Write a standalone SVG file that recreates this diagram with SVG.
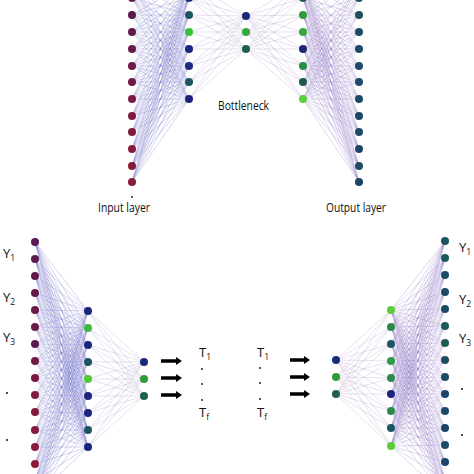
<svg xmlns="http://www.w3.org/2000/svg" width="474" height="474" viewBox="0 0 474 474">
<defs>
<style>
.e1{fill:none;stroke:#6a6ac4;stroke-width:0.5;stroke-opacity:0.55;stroke-linejoin:round}
.e2{fill:none;stroke:#b09cc8;stroke-width:0.5;stroke-opacity:0.6;stroke-linejoin:round}
.e3{fill:none;stroke:#8a72c2;stroke-width:0.5;stroke-opacity:0.55;stroke-linejoin:round}
.t{font-family:"Open Sans","Liberation Sans",sans-serif;fill:#111}
.dot{fill:#111}
circle{stroke:none}
</style>
<polygon id="arrL" points="0,-1.8 15,-1.8 15,-4 21,0 15,4 15,1.8 0,1.8" fill="#000"/>
<polygon id="arrR" points="0,-1.8 14,-1.8 14,-4 20,0 14,4 14,1.8 0,1.8" fill="#000"/>
</defs>
<rect width="474" height="474" fill="#fff"/>
<g id="connectors">
<path class="e1" d="M132 -18 189 -18 132 -2 189 -2 132 -18 189 15 132 -2 189 32 132 -18 189 49 132 -2 189 66 132 -18 189 82 132 -2 189 99 132 -18
M132 15 189 -18 132 32 189 -2 132 15 189 15 132 32 189 32 132 15 189 49 132 32 189 66 132 15 189 82 132 32 189 99 132 15
M132 49 189 -18 132 66 189 -2 132 49 189 15 132 66 189 32 132 49 189 49 132 66 189 66 132 49 189 82 132 66 189 99 132 49
M132 82 189 -18 132 99 189 -2 132 82 189 15 132 99 189 32 132 82 189 49 132 99 189 66 132 82 189 82 132 99 189 99 132 82
M132 116 189 -18 132 132 189 -2 132 116 189 15 132 132 189 32 132 116 189 49 132 132 189 66 132 116 189 82 132 132 189 99 132 116
M132 149 189 -18 132 166 189 -2 132 149 189 15 132 166 189 32 132 149 189 49 132 166 189 66 132 149 189 82 132 166 189 99 132 149
M189 -18 132 182 189 -2M189 15 132 182 189 32M189 49 132 182 189 66M189 82 132 182 189 99"/>
<path class="e2" d="M189 -18 246 16 189 -2 246 32 189 -18 246 49 189 -2
M189 15 246 16 189 32 246 32 189 15 246 49 189 32
M189 49 246 16 189 66 246 32 189 49 246 49 189 66
M189 82 246 16 189 99 246 32 189 82 246 49 189 99
M303 -18 246 16 303 -2 246 32 303 -18 246 49 303 -2
M303 15 246 16 303 32 246 32 303 15 246 49 303 32
M303 49 246 16 303 66 246 32 303 49 246 49 303 66
M303 82 246 16 303 99 246 32 303 82 246 49 303 99"/>
<path class="e3" d="M359 -18 303 -18 359 -2 303 -2 359 -18 303 15 359 -2 303 32 359 -18 303 49 359 -2 303 66 359 -18 303 82 359 -2 303 99 359 -18
M359 15 303 -18 359 32 303 -2 359 15 303 15 359 32 303 32 359 15 303 49 359 32 303 66 359 15 303 82 359 32 303 99 359 15
M359 49 303 -18 359 66 303 -2 359 49 303 15 359 66 303 32 359 49 303 49 359 66 303 66 359 49 303 82 359 66 303 99 359 49
M359 82 303 -18 359 99 303 -2 359 82 303 15 359 99 303 32 359 82 303 49 359 99 303 66 359 82 303 82 359 99 303 99 359 82
M359 116 303 -18 359 132 303 -2 359 116 303 15 359 132 303 32 359 116 303 49 359 132 303 66 359 116 303 82 359 132 303 99 359 116
M359 149 303 -18 359 166 303 -2 359 149 303 15 359 166 303 32 359 149 303 49 359 166 303 66 359 149 303 82 359 166 303 99 359 149
M303 -18 359 182 303 -2M303 15 359 182 303 32M303 49 359 182 303 66M303 82 359 182 303 99"/>
<path class="e1" d="M35 242 88 311 35 259 88 328 35 242 88 345 35 259 88 362 35 242 88 379 35 259 88 396 35 242 88 413 35 259 88 430 35 242 88 447 35 259
M35 276 88 311 35 293 88 328 35 276 88 345 35 293 88 362 35 276 88 379 35 293 88 396 35 276 88 413 35 293 88 430 35 276 88 447 35 293
M35 310 88 311 35 327 88 328 35 310 88 345 35 327 88 362 35 310 88 379 35 327 88 396 35 310 88 413 35 327 88 430 35 310 88 447 35 327
M35 344 88 311 35 361 88 328 35 344 88 345 35 361 88 362 35 344 88 379 35 361 88 396 35 344 88 413 35 361 88 430 35 344 88 447 35 361
M35 378 88 311 35 395 88 328 35 378 88 345 35 395 88 362 35 378 88 379 35 395 88 396 35 378 88 413 35 395 88 430 35 378 88 447 35 395
M35 412 88 311 35 430 88 328 35 412 88 345 35 430 88 362 35 412 88 379 35 430 88 396 35 412 88 413 35 430 88 430 35 412 88 447 35 430
M35 447 88 311 35 464 88 328 35 447 88 345 35 464 88 362 35 447 88 379 35 464 88 396 35 447 88 413 35 464 88 430 35 447 88 447 35 464
M35 481 88 311 35 498 88 328 35 481 88 345 35 498 88 362 35 481 88 379 35 498 88 396 35 481 88 413 35 498 88 430 35 481 88 447 35 498"/>
<path class="e2" d="M88 311 144 362 88 328 144 379 88 311 144 396 88 328
M88 345 144 362 88 362 144 379 88 345 144 396 88 362
M88 379 144 362 88 396 144 379 88 379 144 396 88 396
M88 413 144 362 88 430 144 379 88 413 144 396 88 430
M144 362 88 447 144 379M88 447 144 396
M391 310 336 360 391 327 336 377 391 310 336 394 391 327
M391 344 336 360 391 361 336 377 391 344 336 394 391 361
M391 378 336 360 391 394 336 377 391 378 336 394 391 394
M391 411 336 360 391 428 336 377 391 411 336 394 391 428
M336 360 391 446 336 377M391 446 336 394"/>
<path class="e3" d="M445 241 391 310 445 258 391 327 445 241 391 344 445 258 391 361 445 241 391 378 445 258 391 394 445 241 391 411 445 258 391 428 445 241 391 446 445 258
M445 275 391 310 445 292 391 327 445 275 391 344 445 292 391 361 445 275 391 378 445 292 391 394 445 275 391 411 445 292 391 428 445 275 391 446 445 292
M445 309 391 310 445 326 391 327 445 309 391 344 445 326 391 361 445 309 391 378 445 326 391 394 445 309 391 411 445 326 391 428 445 309 391 446 445 326
M445 343 391 310 445 360 391 327 445 343 391 344 445 360 391 361 445 343 391 378 445 360 391 394 445 343 391 411 445 360 391 428 445 343 391 446 445 360
M445 377 391 310 445 394 391 327 445 377 391 344 445 394 391 361 445 377 391 378 445 394 391 394 445 377 391 411 445 394 391 428 445 377 391 446 445 394
M445 411 391 310 445 428 391 327 445 411 391 344 445 428 391 361 445 411 391 378 445 428 391 394 445 411 391 411 445 428 391 428 445 411 391 446 445 428
M445 445 391 310 445 462 391 327 445 445 391 344 445 462 391 361 445 445 391 378 445 462 391 394 445 445 391 411 445 462 391 428 445 445 391 446 445 462
M445 479 391 310 445 496 391 327 445 479 391 344 445 496 391 361 445 479 391 378 445 496 391 394 445 479 391 411 445 496 391 428 445 479 391 446 445 496"/>
<use href="#arrL" x="161" y="361"/>
<use href="#arrL" x="161" y="378"/>
<use href="#arrL" x="161" y="395"/>
<use href="#arrR" x="290" y="360"/>
<use href="#arrR" x="290" y="377"/>
<use href="#arrR" x="290" y="394"/>
</g>
<g id="ti0"><circle cx="132" cy="-2" r="4" fill="#581a4e"/></g>
<g id="ti1"><circle cx="132" cy="15" r="4" fill="#5c1a4c"/></g>
<g id="ti2"><circle cx="132" cy="32" r="4" fill="#621a4a"/></g>
<g id="ti3"><circle cx="132" cy="49" r="4" fill="#681a48"/></g>
<g id="ti4"><circle cx="132" cy="66" r="4" fill="#6e1a46"/></g>
<g id="ti5"><circle cx="132" cy="82" r="4" fill="#741a44"/></g>
<g id="ti6"><circle cx="132" cy="99" r="4" fill="#7a1a42"/></g>
<g id="ti7"><circle cx="132" cy="116" r="4" fill="#801a40"/></g>
<g id="ti8"><circle cx="132" cy="132" r="4" fill="#841a3e"/></g>
<g id="ti9"><circle cx="132" cy="149" r="4" fill="#881a3c"/></g>
<g id="ti10"><circle cx="132" cy="166" r="4" fill="#8a1a3a"/></g>
<g id="ti11"><circle cx="132" cy="182" r="4" fill="#8c1a3a"/></g>
<circle class="dot" cx="132" cy="197" r="0.9"/>
<g id="th1_0"><circle cx="189" cy="-2" r="4" fill="#1b2a78"/></g>
<g id="th1_1"><circle cx="189" cy="15" r="4" fill="#1e5560"/></g>
<g id="th1_2"><circle cx="189" cy="32" r="4" fill="#3cc03a"/></g>
<g id="th1_3"><circle cx="189" cy="49" r="4" fill="#1a237e"/></g>
<g id="th1_4"><circle cx="189" cy="66" r="4" fill="#1a2a80"/></g>
<g id="th1_5"><circle cx="189" cy="82" r="4" fill="#1e5560"/></g>
<g id="th1_6"><circle cx="189" cy="99" r="4" fill="#1a237e"/></g>
<g id="tb0"><circle cx="246" cy="16" r="4" fill="#1a2a7a"/></g>
<g id="tb1"><circle cx="246" cy="32" r="4" fill="#34a83a"/></g>
<g id="tb2"><circle cx="246" cy="49" r="4" fill="#1e6050"/></g>
<g id="th2_0"><circle cx="303" cy="-2" r="4" fill="#1e5a58"/></g>
<g id="th2_1"><circle cx="303" cy="15" r="4" fill="#2e9a3a"/></g>
<g id="th2_2"><circle cx="303" cy="32" r="4" fill="#36a83a"/></g>
<g id="th2_3"><circle cx="303" cy="49" r="4" fill="#1a2670"/></g>
<g id="th2_4"><circle cx="303" cy="66" r="4" fill="#2a8a4a"/></g>
<g id="th2_5"><circle cx="303" cy="82" r="4" fill="#1e5a50"/></g>
<g id="th2_6"><circle cx="303" cy="99" r="4" fill="#5ad040"/></g>
<g id="to0"><circle cx="359" cy="-2" r="4" fill="#1e4f60"/></g>
<g id="to1"><circle cx="359" cy="15" r="4" fill="#1e5058"/></g>
<g id="to2"><circle cx="359" cy="32" r="4" fill="#1d4a66"/></g>
<g id="to3"><circle cx="359" cy="49" r="4" fill="#1d4a66"/></g>
<g id="to4"><circle cx="359" cy="66" r="4" fill="#1d4a66"/></g>
<g id="to5"><circle cx="359" cy="82" r="4" fill="#1d4a66"/></g>
<g id="to6"><circle cx="359" cy="99" r="4" fill="#1d4a66"/></g>
<g id="to7"><circle cx="359" cy="116" r="4" fill="#1c4468"/></g>
<g id="to8"><circle cx="359" cy="132" r="4" fill="#1d4a66"/></g>
<g id="to9"><circle cx="359" cy="149" r="4" fill="#1c4468"/></g>
<g id="to10"><circle cx="359" cy="166" r="4" fill="#1d4a66"/></g>
<g id="to11"><circle cx="359" cy="182" r="4" fill="#1c4468"/></g>
<g id="bi0"><circle cx="35" cy="242" r="4" fill="#581a50"/></g>
<g id="bi1"><circle cx="35" cy="259" r="4" fill="#5c1a4e"/></g>
<g id="bi2"><circle cx="35" cy="276" r="4" fill="#601a4c"/></g>
<g id="bi3"><circle cx="35" cy="293" r="4" fill="#641a4a"/></g>
<g id="bi4"><circle cx="35" cy="310" r="4" fill="#681a48"/></g>
<g id="bi5"><circle cx="35" cy="327" r="4" fill="#6a1a48"/></g>
<g id="bi6"><circle cx="35" cy="344" r="4" fill="#5a1a50"/></g>
<g id="bi7"><circle cx="35" cy="361" r="4" fill="#701a44"/></g>
<g id="bi8"><circle cx="35" cy="378" r="4" fill="#781a42"/></g>
<g id="bi9"><circle cx="35" cy="395" r="4" fill="#7c1a40"/></g>
<g id="bi10"><circle cx="35" cy="412" r="4" fill="#801a3e"/></g>
<g id="bi11"><circle cx="35" cy="430" r="4" fill="#841a3c"/></g>
<g id="bi12"><circle cx="35" cy="447" r="4" fill="#881a3c"/></g>
<g id="bi13"><circle cx="35" cy="464" r="4" fill="#8a1a3a"/></g>
<g id="bh1_0"><circle cx="88" cy="311" r="4" fill="#1a237e"/></g>
<g id="bh1_1"><circle cx="88" cy="328" r="4" fill="#3cb83a"/></g>
<g id="bh1_2"><circle cx="88" cy="345" r="4" fill="#1a237e"/></g>
<g id="bh1_3"><circle cx="88" cy="362" r="4" fill="#1e5566"/></g>
<g id="bh1_4"><circle cx="88" cy="379" r="4" fill="#4ccc30"/></g>
<g id="bh1_5"><circle cx="88" cy="396" r="4" fill="#1a237e"/></g>
<g id="bh1_6"><circle cx="88" cy="413" r="4" fill="#1a2580"/></g>
<g id="bh1_7"><circle cx="88" cy="430" r="4" fill="#1e5560"/></g>
<g id="bh1_8"><circle cx="88" cy="447" r="4" fill="#1a237e"/></g>
<g id="bb0"><circle cx="144" cy="362" r="4" fill="#1a2a7a"/></g>
<g id="bb1"><circle cx="144" cy="379" r="4" fill="#2e9a3a"/></g>
<g id="bb2"><circle cx="144" cy="396" r="4" fill="#1e6050"/></g>
<g id="bc0"><circle cx="336" cy="360" r="4" fill="#1a2a7a"/></g>
<g id="bc1"><circle cx="336" cy="377" r="4" fill="#2e9a3a"/></g>
<g id="bc2"><circle cx="336" cy="394" r="4" fill="#1e6050"/></g>
<g id="bh2_0"><circle cx="391" cy="310" r="4" fill="#5acd3a"/></g>
<g id="bh2_1"><circle cx="391" cy="327" r="4" fill="#2a8a4a"/></g>
<g id="bh2_2"><circle cx="391" cy="344" r="4" fill="#1e5566"/></g>
<g id="bh2_3"><circle cx="391" cy="361" r="4" fill="#2e9a4a"/></g>
<g id="bh2_4"><circle cx="391" cy="378" r="4" fill="#2a8a4a"/></g>
<g id="bh2_5"><circle cx="391" cy="394" r="4" fill="#1a237e"/></g>
<g id="bh2_6"><circle cx="391" cy="411" r="4" fill="#2a8a4a"/></g>
<g id="bh2_7"><circle cx="391" cy="428" r="4" fill="#1e5566"/></g>
<g id="bh2_8"><circle cx="391" cy="446" r="4" fill="#5acd3a"/></g>
<g id="bo0"><circle cx="445" cy="241" r="4" fill="#1e5560"/></g>
<g id="bo1"><circle cx="445" cy="258" r="4" fill="#1e5a5a"/></g>
<g id="bo2"><circle cx="445" cy="275" r="4" fill="#1d4a66"/></g>
<g id="bo3"><circle cx="445" cy="292" r="4" fill="#1d4a66"/></g>
<g id="bo4"><circle cx="445" cy="309" r="4" fill="#1d4a66"/></g>
<g id="bo5"><circle cx="445" cy="326" r="4" fill="#1e5a5a"/></g>
<g id="bo6"><circle cx="445" cy="343" r="4" fill="#1e5a50"/></g>
<g id="bo7"><circle cx="445" cy="360" r="4" fill="#1d4a66"/></g>
<g id="bo8"><circle cx="445" cy="377" r="4" fill="#1d4a66"/></g>
<g id="bo9"><circle cx="445" cy="394" r="4" fill="#1c4468"/></g>
<g id="bo10"><circle cx="445" cy="411" r="4" fill="#1d4a66"/></g>
<g id="bo11"><circle cx="445" cy="428" r="4" fill="#1c4468"/></g>
<g id="bo12"><circle cx="445" cy="445" r="4" fill="#1d4a66"/></g>
<g id="bo13"><circle cx="445" cy="462" r="4" fill="#1c4468"/></g>
<text class="t" x="218" y="110" font-size="12.5" textLength="51" lengthAdjust="spacingAndGlyphs">Bottleneck</text>
<text class="t" x="98" y="212" font-size="12.5" textLength="52" lengthAdjust="spacingAndGlyphs">Input layer</text>
<text class="t" x="326" y="212" font-size="12.5" textLength="60" lengthAdjust="spacingAndGlyphs">Output layer</text>
<text class="t" x="3" y="258" font-size="13">Y<tspan font-size="8.5" dy="3">1</tspan></text>
<text class="t" x="3" y="302" font-size="13">Y<tspan font-size="8.5" dy="3">2</tspan></text>
<text class="t" x="3" y="342" font-size="13">Y<tspan font-size="8.5" dy="3">3</tspan></text>
<circle class="dot" cx="7" cy="393" r="1"/>
<circle class="dot" cx="7" cy="440" r="1"/>
<text class="t" x="459" y="252" font-size="13">Y<tspan font-size="8.5" dy="3">1</tspan></text>
<text class="t" x="459" y="304" font-size="13">Y<tspan font-size="8.5" dy="3">2</tspan></text>
<text class="t" x="459" y="343" font-size="13">Y<tspan font-size="8.5" dy="3">3</tspan></text>
<circle class="dot" cx="462" cy="389" r="1"/>
<circle class="dot" cx="462" cy="435" r="1"/>
<text class="t" x="199" y="357" font-size="13">T<tspan font-size="8.5" dy="3">1</tspan></text>
<circle class="dot" cx="202" cy="369" r="0.9"/>
<circle class="dot" cx="202" cy="384" r="0.9"/>
<circle class="dot" cx="202" cy="400" r="0.9"/>
<text class="t" x="199" y="417" font-size="13">T<tspan font-size="8.5" dy="3">f</tspan></text>
<text class="t" x="257" y="357" font-size="13">T<tspan font-size="8.5" dy="3">1</tspan></text>
<circle class="dot" cx="260" cy="368" r="0.9"/>
<circle class="dot" cx="260" cy="383" r="0.9"/>
<circle class="dot" cx="260" cy="399" r="0.9"/>
<text class="t" x="257" y="417" font-size="13">T<tspan font-size="8.5" dy="3">f</tspan></text>
</svg>
